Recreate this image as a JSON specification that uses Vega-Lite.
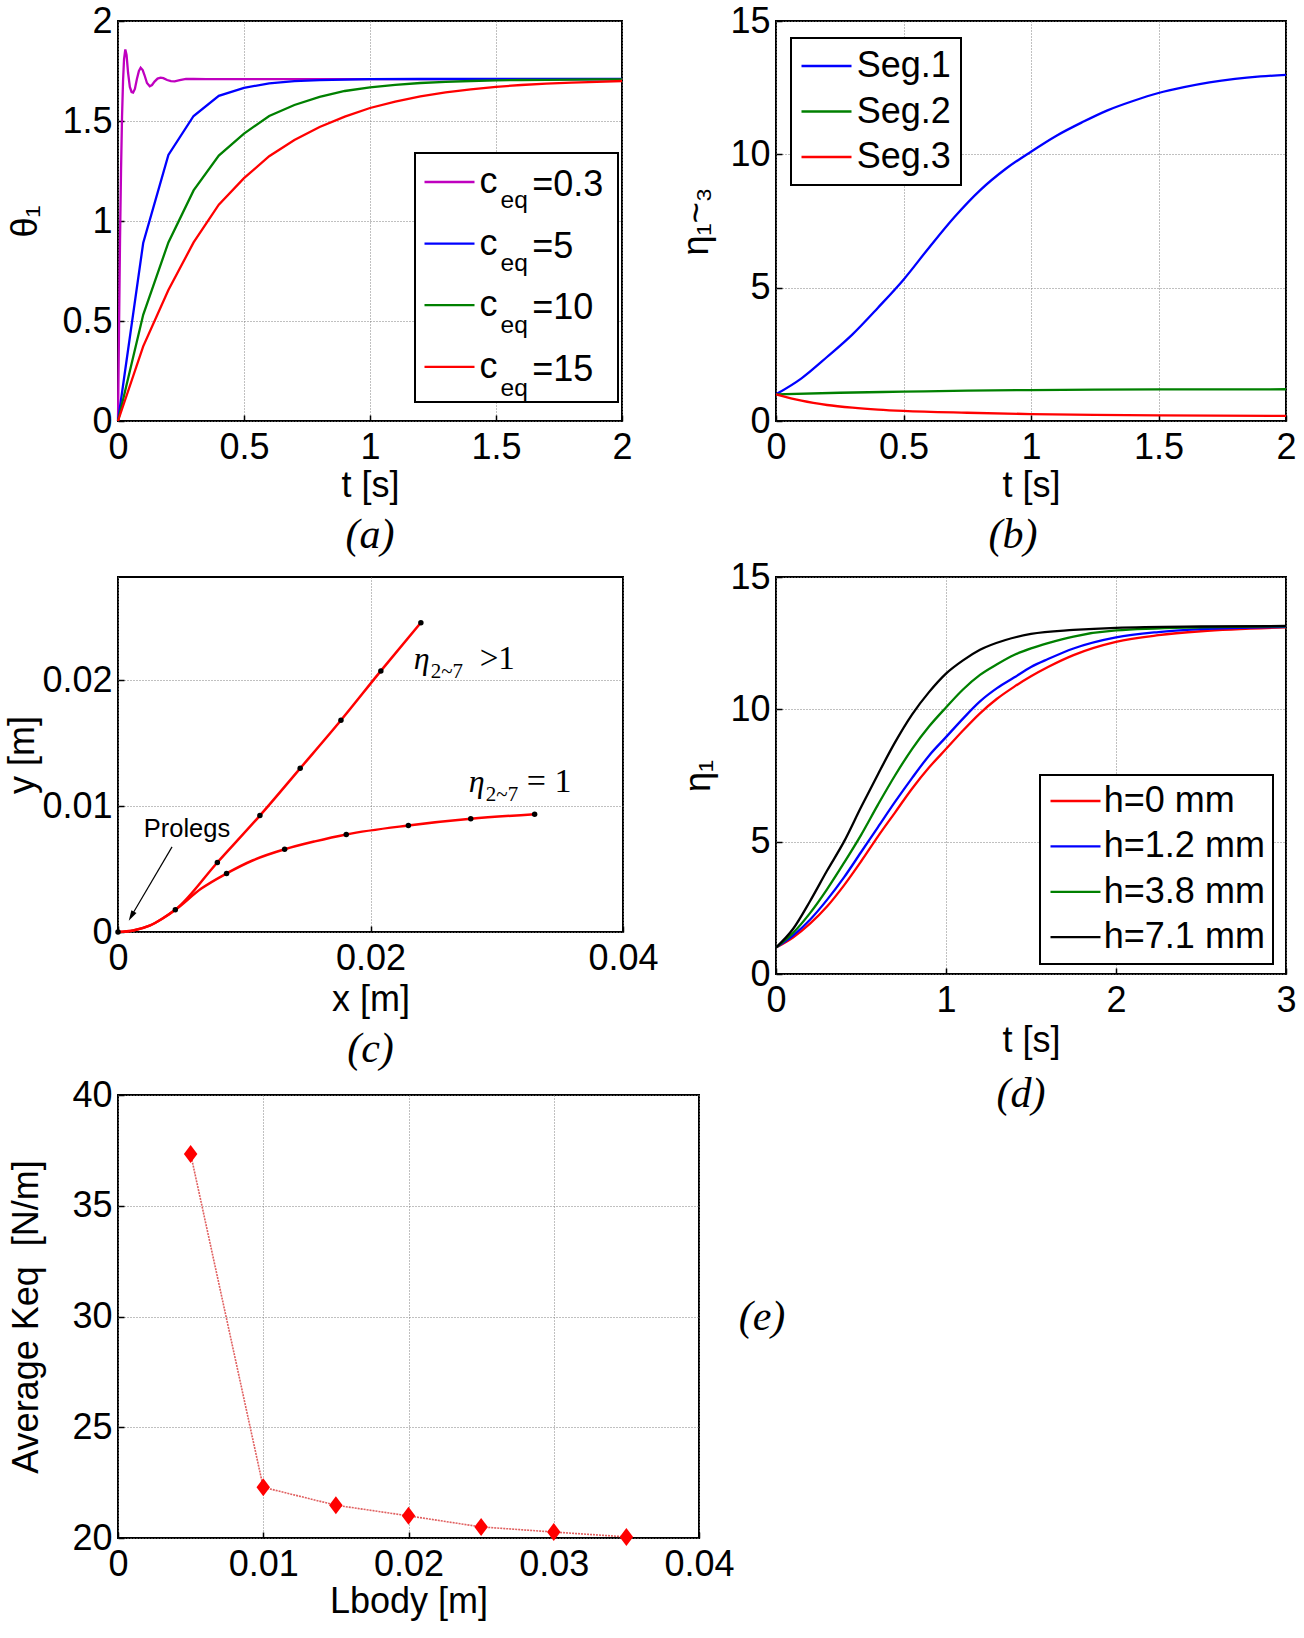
{
  "$schema": "https://vega.github.io/schema/vega-lite/v6.json",
  "autosize": "none",
  "padding": {"left": 118, "top": 21, "right": 1186, "bottom": 1617},
  "background": "white",
  "config": {
    "font": "Liberation Sans",
    "view": {"stroke": "black", "strokeWidth": 2},
    "axis": {
      "domain": false, "grid": true, "gridColor": "#808080", "gridDash": [1, 2], "gridWidth": 1,
      "ticks": true, "tickColor": "black", "tickSize": -6, "tickWidth": 1.5,
      "labelFont": "Liberation Sans", "labelFontSize": 36, "labelColor": "black",
      "labelFlush": false, "labelOverlap": false, "labelBound": false,
      "titleFont": "Liberation Sans", "titleFontSize": 36, "titleFontWeight": "normal", "titleColor": "black"
    },
    "axisX": {"labelPadding": 15},
    "axisY": {"labelPadding": 12},
    "legend": {
      "labelFont": "Liberation Sans", "labelColor": "black", "labelLimit": 400,
      "symbolType": "M-1,0H3", "symbolSize": 625, "symbolStrokeWidth": 2.3, "labelOffset": 20,
      "strokeColor": "black", "strokeWidth": 2, "fillColor": "white", "orient": "none"
    },
    "title": {
      "font": "Liberation Serif", "fontSize": 42, "fontStyle": "italic", "fontWeight": "normal",
      "color": "black", "orient": "bottom", "frame": "group", "anchor": "middle", "offset": 12
    }
  },
  "datasets": {
    "a": [
      {"t": 0, "th": 0, "c": "ceq=0.3"}, {"t": 0.004, "th": 0.45, "c": "ceq=0.3"}, {"t": 0.008, "th": 0.9, "c": "ceq=0.3"},
      {"t": 0.012, "th": 1.25, "c": "ceq=0.3"}, {"t": 0.016, "th": 1.52, "c": "ceq=0.3"}, {"t": 0.02, "th": 1.7, "c": "ceq=0.3"},
      {"t": 0.024, "th": 1.81, "c": "ceq=0.3"}, {"t": 0.029, "th": 1.858, "c": "ceq=0.3"}, {"t": 0.034, "th": 1.83, "c": "ceq=0.3"},
      {"t": 0.04, "th": 1.74, "c": "ceq=0.3"}, {"t": 0.047, "th": 1.67, "c": "ceq=0.3"}, {"t": 0.054, "th": 1.645, "c": "ceq=0.3"},
      {"t": 0.06, "th": 1.642, "c": "ceq=0.3"}, {"t": 0.067, "th": 1.66, "c": "ceq=0.3"}, {"t": 0.075, "th": 1.71, "c": "ceq=0.3"},
      {"t": 0.083, "th": 1.75, "c": "ceq=0.3"}, {"t": 0.09, "th": 1.766, "c": "ceq=0.3"}, {"t": 0.098, "th": 1.755, "c": "ceq=0.3"},
      {"t": 0.105, "th": 1.73, "c": "ceq=0.3"}, {"t": 0.115, "th": 1.69, "c": "ceq=0.3"}, {"t": 0.126, "th": 1.674, "c": "ceq=0.3"},
      {"t": 0.135, "th": 1.68, "c": "ceq=0.3"}, {"t": 0.145, "th": 1.697, "c": "ceq=0.3"}, {"t": 0.157, "th": 1.712, "c": "ceq=0.3"},
      {"t": 0.169, "th": 1.717, "c": "ceq=0.3"}, {"t": 0.18, "th": 1.714, "c": "ceq=0.3"}, {"t": 0.195, "th": 1.705, "c": "ceq=0.3"},
      {"t": 0.21, "th": 1.699, "c": "ceq=0.3"}, {"t": 0.225, "th": 1.698, "c": "ceq=0.3"}, {"t": 0.245, "th": 1.704, "c": "ceq=0.3"},
      {"t": 0.27, "th": 1.711, "c": "ceq=0.3"}, {"t": 0.3, "th": 1.71, "c": "ceq=0.3"}, {"t": 0.35, "th": 1.709, "c": "ceq=0.3"},
      {"t": 0.5, "th": 1.709, "c": "ceq=0.3"}, {"t": 1.0, "th": 1.709, "c": "ceq=0.3"}, {"t": 1.5, "th": 1.709, "c": "ceq=0.3"},
      {"t": 2.0, "th": 1.709, "c": "ceq=0.3"},
      {"t": 0, "th": 0, "c": "ceq=5"}, {"t": 0.1, "th": 0.89, "c": "ceq=5"}, {"t": 0.2, "th": 1.33, "c": "ceq=5"},
      {"t": 0.3, "th": 1.525, "c": "ceq=5"}, {"t": 0.4, "th": 1.626, "c": "ceq=5"}, {"t": 0.5, "th": 1.666, "c": "ceq=5"},
      {"t": 0.6, "th": 1.688, "c": "ceq=5"}, {"t": 0.7, "th": 1.699, "c": "ceq=5"}, {"t": 0.8, "th": 1.704, "c": "ceq=5"},
      {"t": 0.9, "th": 1.707, "c": "ceq=5"}, {"t": 1.0, "th": 1.709, "c": "ceq=5"}, {"t": 1.2, "th": 1.71, "c": "ceq=5"},
      {"t": 1.5, "th": 1.71, "c": "ceq=5"}, {"t": 2.0, "th": 1.71, "c": "ceq=5"},
      {"t": 0, "th": 0, "c": "ceq=10"}, {"t": 0.1, "th": 0.531, "c": "ceq=10"}, {"t": 0.2, "th": 0.893, "c": "ceq=10"},
      {"t": 0.3, "th": 1.153, "c": "ceq=10"}, {"t": 0.4, "th": 1.327, "c": "ceq=10"}, {"t": 0.5, "th": 1.437, "c": "ceq=10"},
      {"t": 0.6, "th": 1.525, "c": "ceq=10"}, {"t": 0.7, "th": 1.58, "c": "ceq=10"}, {"t": 0.8, "th": 1.621, "c": "ceq=10"},
      {"t": 0.9, "th": 1.65, "c": "ceq=10"}, {"t": 1.0, "th": 1.668, "c": "ceq=10"}, {"t": 1.1, "th": 1.681, "c": "ceq=10"},
      {"t": 1.2, "th": 1.69, "c": "ceq=10"}, {"t": 1.3, "th": 1.696, "c": "ceq=10"}, {"t": 1.4, "th": 1.7, "c": "ceq=10"},
      {"t": 1.5, "th": 1.703, "c": "ceq=10"}, {"t": 1.6, "th": 1.705, "c": "ceq=10"}, {"t": 1.7, "th": 1.706, "c": "ceq=10"},
      {"t": 1.8, "th": 1.707, "c": "ceq=10"}, {"t": 1.9, "th": 1.708, "c": "ceq=10"}, {"t": 2.0, "th": 1.708, "c": "ceq=10"},
      {"t": 0, "th": 0, "c": "ceq=15"}, {"t": 0.1, "th": 0.373, "c": "ceq=15"}, {"t": 0.2, "th": 0.655, "c": "ceq=15"},
      {"t": 0.3, "th": 0.893, "c": "ceq=15"}, {"t": 0.4, "th": 1.082, "c": "ceq=15"}, {"t": 0.5, "th": 1.214, "c": "ceq=15"},
      {"t": 0.6, "th": 1.324, "c": "ceq=15"}, {"t": 0.7, "th": 1.405, "c": "ceq=15"}, {"t": 0.8, "th": 1.47, "c": "ceq=15"},
      {"t": 0.9, "th": 1.522, "c": "ceq=15"}, {"t": 1.0, "th": 1.565, "c": "ceq=15"}, {"t": 1.1, "th": 1.597, "c": "ceq=15"},
      {"t": 1.2, "th": 1.623, "c": "ceq=15"}, {"t": 1.3, "th": 1.643, "c": "ceq=15"}, {"t": 1.4, "th": 1.658, "c": "ceq=15"},
      {"t": 1.5, "th": 1.671, "c": "ceq=15"}, {"t": 1.6, "th": 1.68, "c": "ceq=15"}, {"t": 1.7, "th": 1.687, "c": "ceq=15"},
      {"t": 1.8, "th": 1.692, "c": "ceq=15"}, {"t": 1.9, "th": 1.696, "c": "ceq=15"}, {"t": 2.0, "th": 1.7, "c": "ceq=15"}
    ],
    "asub": [{"k": "eq0.3"}, {"k": "eq5"}, {"k": "eq10"}, {"k": "eq15"}],
    "aval": [{"v": "=0.3"}, {"v": "=5"}, {"v": "=10"}, {"v": "=15"}],
    "b": [
      {"t": 0, "eta": 1.0, "s": "Seg.1"}, {"t": 0.1, "eta": 1.6, "s": "Seg.1"}, {"t": 0.2, "eta": 2.4, "s": "Seg.1"},
      {"t": 0.3, "eta": 3.25, "s": "Seg.1"}, {"t": 0.4, "eta": 4.25, "s": "Seg.1"}, {"t": 0.5, "eta": 5.3, "s": "Seg.1"},
      {"t": 0.6, "eta": 6.5, "s": "Seg.1"}, {"t": 0.7, "eta": 7.65, "s": "Seg.1"}, {"t": 0.8, "eta": 8.65, "s": "Seg.1"},
      {"t": 0.9, "eta": 9.45, "s": "Seg.1"}, {"t": 1.0, "eta": 10.1, "s": "Seg.1"}, {"t": 1.1, "eta": 10.7, "s": "Seg.1"},
      {"t": 1.2, "eta": 11.2, "s": "Seg.1"}, {"t": 1.3, "eta": 11.65, "s": "Seg.1"}, {"t": 1.4, "eta": 12.0, "s": "Seg.1"},
      {"t": 1.5, "eta": 12.3, "s": "Seg.1"}, {"t": 1.6, "eta": 12.52, "s": "Seg.1"}, {"t": 1.7, "eta": 12.7, "s": "Seg.1"},
      {"t": 1.8, "eta": 12.83, "s": "Seg.1"}, {"t": 1.9, "eta": 12.92, "s": "Seg.1"}, {"t": 2.0, "eta": 12.98, "s": "Seg.1"},
      {"t": 0, "eta": 1.0, "s": "Seg.2"}, {"t": 0.25, "eta": 1.06, "s": "Seg.2"}, {"t": 0.5, "eta": 1.1, "s": "Seg.2"},
      {"t": 0.75, "eta": 1.14, "s": "Seg.2"}, {"t": 1.0, "eta": 1.16, "s": "Seg.2"}, {"t": 1.25, "eta": 1.175, "s": "Seg.2"},
      {"t": 1.5, "eta": 1.185, "s": "Seg.2"}, {"t": 2.0, "eta": 1.19, "s": "Seg.2"},
      {"t": 0, "eta": 1.0, "s": "Seg.3"}, {"t": 0.1, "eta": 0.76, "s": "Seg.3"}, {"t": 0.2, "eta": 0.6, "s": "Seg.3"},
      {"t": 0.3, "eta": 0.5, "s": "Seg.3"}, {"t": 0.4, "eta": 0.43, "s": "Seg.3"}, {"t": 0.5, "eta": 0.38, "s": "Seg.3"},
      {"t": 0.75, "eta": 0.31, "s": "Seg.3"}, {"t": 1.0, "eta": 0.26, "s": "Seg.3"}, {"t": 1.25, "eta": 0.23, "s": "Seg.3"},
      {"t": 1.5, "eta": 0.21, "s": "Seg.3"}, {"t": 2.0, "eta": 0.19, "s": "Seg.3"}
    ],
    "cline": [
      {"x": 0, "y": 0, "k": "gt"}, {"x": 0.0012, "y": 0.00012, "k": "gt"}, {"x": 0.0025, "y": 0.0005, "k": "gt"},
      {"x": 0.0035, "y": 0.00105, "k": "gt"}, {"x": 0.00454, "y": 0.00176, "k": "gt"}, {"x": 0.00787, "y": 0.00552, "k": "gt"},
      {"x": 0.01124, "y": 0.00925, "k": "gt"}, {"x": 0.01443, "y": 0.013, "k": "gt"}, {"x": 0.01766, "y": 0.01682, "k": "gt"},
      {"x": 0.02082, "y": 0.02074, "k": "gt"}, {"x": 0.02399, "y": 0.02457, "k": "gt"},
      {"x": 0, "y": 0, "k": "eq"}, {"x": 0.0012, "y": 0.00012, "k": "eq"}, {"x": 0.0025, "y": 0.0005, "k": "eq"},
      {"x": 0.0035, "y": 0.00105, "k": "eq"}, {"x": 0.00454, "y": 0.00176, "k": "eq"}, {"x": 0.0066, "y": 0.00345, "k": "eq"},
      {"x": 0.0086, "y": 0.00465, "k": "eq"}, {"x": 0.0107, "y": 0.0057, "k": "eq"}, {"x": 0.0132, "y": 0.00657, "k": "eq"},
      {"x": 0.0156, "y": 0.0072, "k": "eq"}, {"x": 0.01808, "y": 0.00775, "k": "eq"}, {"x": 0.023, "y": 0.00846, "k": "eq"},
      {"x": 0.02794, "y": 0.00899, "k": "eq"}, {"x": 0.033, "y": 0.00936, "k": "eq"}
    ],
    "cnodes": [
      {"x": 0, "y": 0}, {"x": 0.00454, "y": 0.00176}, {"x": 0.00787, "y": 0.00552}, {"x": 0.01124, "y": 0.00925},
      {"x": 0.01443, "y": 0.013}, {"x": 0.01766, "y": 0.01682}, {"x": 0.02082, "y": 0.02074}, {"x": 0.02399, "y": 0.02457},
      {"x": 0.0086, "y": 0.00465}, {"x": 0.0132, "y": 0.00657}, {"x": 0.01808, "y": 0.00775}, {"x": 0.023, "y": 0.00846},
      {"x": 0.02794, "y": 0.00899}, {"x": 0.033, "y": 0.00936}
    ],
    "d": [
      {"t": 0, "eta": 1.0, "h": "h=0 mm"}, {"t": 0.1, "eta": 1.38, "h": "h=0 mm"}, {"t": 0.2, "eta": 1.9, "h": "h=0 mm"},
      {"t": 0.3, "eta": 2.55, "h": "h=0 mm"}, {"t": 0.4, "eta": 3.35, "h": "h=0 mm"}, {"t": 0.5, "eta": 4.25, "h": "h=0 mm"},
      {"t": 0.6, "eta": 5.2, "h": "h=0 mm"}, {"t": 0.7, "eta": 6.1, "h": "h=0 mm"}, {"t": 0.8, "eta": 7.0, "h": "h=0 mm"},
      {"t": 0.9, "eta": 7.8, "h": "h=0 mm"}, {"t": 1.0, "eta": 8.5, "h": "h=0 mm"}, {"t": 1.1, "eta": 9.2, "h": "h=0 mm"},
      {"t": 1.2, "eta": 9.85, "h": "h=0 mm"}, {"t": 1.3, "eta": 10.4, "h": "h=0 mm"}, {"t": 1.4, "eta": 10.85, "h": "h=0 mm"},
      {"t": 1.5, "eta": 11.25, "h": "h=0 mm"}, {"t": 1.6, "eta": 11.6, "h": "h=0 mm"}, {"t": 1.75, "eta": 12.05, "h": "h=0 mm"},
      {"t": 2.0, "eta": 12.55, "h": "h=0 mm"}, {"t": 2.25, "eta": 12.8, "h": "h=0 mm"}, {"t": 2.5, "eta": 12.95, "h": "h=0 mm"},
      {"t": 3.0, "eta": 13.1, "h": "h=0 mm"},
      {"t": 0, "eta": 1.0, "h": "h=1.2 mm"}, {"t": 0.1, "eta": 1.45, "h": "h=1.2 mm"}, {"t": 0.2, "eta": 2.05, "h": "h=1.2 mm"},
      {"t": 0.3, "eta": 2.8, "h": "h=1.2 mm"}, {"t": 0.4, "eta": 3.65, "h": "h=1.2 mm"}, {"t": 0.5, "eta": 4.6, "h": "h=1.2 mm"},
      {"t": 0.6, "eta": 5.55, "h": "h=1.2 mm"}, {"t": 0.7, "eta": 6.5, "h": "h=1.2 mm"}, {"t": 0.8, "eta": 7.4, "h": "h=1.2 mm"},
      {"t": 0.9, "eta": 8.25, "h": "h=1.2 mm"}, {"t": 1.0, "eta": 8.95, "h": "h=1.2 mm"}, {"t": 1.1, "eta": 9.65, "h": "h=1.2 mm"},
      {"t": 1.2, "eta": 10.3, "h": "h=1.2 mm"}, {"t": 1.3, "eta": 10.8, "h": "h=1.2 mm"}, {"t": 1.4, "eta": 11.2, "h": "h=1.2 mm"},
      {"t": 1.5, "eta": 11.6, "h": "h=1.2 mm"}, {"t": 1.6, "eta": 11.9, "h": "h=1.2 mm"}, {"t": 1.75, "eta": 12.3, "h": "h=1.2 mm"},
      {"t": 2.0, "eta": 12.72, "h": "h=1.2 mm"}, {"t": 2.25, "eta": 12.92, "h": "h=1.2 mm"}, {"t": 2.5, "eta": 13.03, "h": "h=1.2 mm"},
      {"t": 3.0, "eta": 13.12, "h": "h=1.2 mm"},
      {"t": 0, "eta": 1.0, "h": "h=3.8 mm"}, {"t": 0.1, "eta": 1.55, "h": "h=3.8 mm"}, {"t": 0.2, "eta": 2.3, "h": "h=3.8 mm"},
      {"t": 0.3, "eta": 3.2, "h": "h=3.8 mm"}, {"t": 0.4, "eta": 4.2, "h": "h=3.8 mm"}, {"t": 0.5, "eta": 5.25, "h": "h=3.8 mm"},
      {"t": 0.6, "eta": 6.4, "h": "h=3.8 mm"}, {"t": 0.7, "eta": 7.5, "h": "h=3.8 mm"}, {"t": 0.8, "eta": 8.5, "h": "h=3.8 mm"},
      {"t": 0.9, "eta": 9.35, "h": "h=3.8 mm"}, {"t": 1.0, "eta": 10.07, "h": "h=3.8 mm"}, {"t": 1.1, "eta": 10.75, "h": "h=3.8 mm"},
      {"t": 1.2, "eta": 11.3, "h": "h=3.8 mm"}, {"t": 1.3, "eta": 11.7, "h": "h=3.8 mm"}, {"t": 1.4, "eta": 12.05, "h": "h=3.8 mm"},
      {"t": 1.5, "eta": 12.3, "h": "h=3.8 mm"}, {"t": 1.6, "eta": 12.5, "h": "h=3.8 mm"}, {"t": 1.75, "eta": 12.75, "h": "h=3.8 mm"},
      {"t": 2.0, "eta": 12.98, "h": "h=3.8 mm"}, {"t": 2.5, "eta": 13.1, "h": "h=3.8 mm"}, {"t": 3.0, "eta": 13.14, "h": "h=3.8 mm"},
      {"t": 0, "eta": 1.0, "h": "h=7.1 mm"}, {"t": 0.1, "eta": 1.7, "h": "h=7.1 mm"}, {"t": 0.2, "eta": 2.75, "h": "h=7.1 mm"},
      {"t": 0.3, "eta": 3.9, "h": "h=7.1 mm"}, {"t": 0.4, "eta": 5.0, "h": "h=7.1 mm"}, {"t": 0.5, "eta": 6.3, "h": "h=7.1 mm"},
      {"t": 0.6, "eta": 7.55, "h": "h=7.1 mm"}, {"t": 0.7, "eta": 8.75, "h": "h=7.1 mm"}, {"t": 0.8, "eta": 9.8, "h": "h=7.1 mm"},
      {"t": 0.9, "eta": 10.65, "h": "h=7.1 mm"}, {"t": 1.0, "eta": 11.35, "h": "h=7.1 mm"}, {"t": 1.1, "eta": 11.85, "h": "h=7.1 mm"},
      {"t": 1.2, "eta": 12.25, "h": "h=7.1 mm"}, {"t": 1.35, "eta": 12.62, "h": "h=7.1 mm"}, {"t": 1.5, "eta": 12.85, "h": "h=7.1 mm"},
      {"t": 1.75, "eta": 13.0, "h": "h=7.1 mm"}, {"t": 2.0, "eta": 13.08, "h": "h=7.1 mm"}, {"t": 2.5, "eta": 13.13, "h": "h=7.1 mm"},
      {"t": 3.0, "eta": 13.15, "h": "h=7.1 mm"}
    ],
    "e": [
      {"L": 0.005, "K": 37.34}, {"L": 0.01, "K": 22.29}, {"L": 0.015, "K": 21.48}, {"L": 0.02, "K": 21.0},
      {"L": 0.025, "K": 20.5}, {"L": 0.03, "K": 20.27}, {"L": 0.035, "K": 20.05}
    ]
  },
  "bounds": "flush",
  "spacing": 1074,
  "vconcat": [
    {
      "columns": 2,
      "bounds": "flush",
      "spacing": {"row": 156, "column": 153},
      "resolve": {"scale": {"color": "independent", "shape": "independent", "fill": "independent"},
                  "legend": {"color": "independent", "shape": "independent", "fill": "independent"}},
      "concat": [
        {
          "width": 504, "height": 400,
          "title": {"text": "(a)", "offset": 12},
          "layer": [
            {
              "data": {"name": "a"},
              "mark": {"type": "line", "strokeWidth": 2.3},
              "encoding": {
                "x": {"field": "t", "type": "quantitative", "scale": {"domain": [0, 2], "nice": false, "zero": false},
                      "axis": {"title": "t [s]", "values": [0, 0.5, 1, 1.5, 2], "format": "~g", "titlePadding": 3}},
                "y": {"field": "th", "type": "quantitative", "scale": {"domain": [0, 2], "nice": false, "zero": false},
                      "axis": {"title": "θ₁", "values": [0, 0.5, 1, 1.5, 2], "format": "~g", "titlePadding": 17}},
                "color": {"field": "c", "type": "nominal",
                          "scale": {"domain": ["ceq=0.3", "ceq=5", "ceq=10", "ceq=15"], "range": ["#bf00bf", "#0000ff", "#008000", "#ff0000"]},
                          "legend": {"title": null, "orient": "none", "legendX": 297, "legendY": 131, "padding": 12, "rowPadding": 25.6, "labelFontSize": 36,
                                     "symbolOffset": -8, "labelOffset": 24.4, "strokeColor": "transparent", "fillColor": "transparent", "zindex": 3,
                                     "labelExpr": "'c'"}}
              }
            },
            {
              "data": {"name": "asub"},
              "mark": {"type": "point", "opacity": 0},
              "encoding": {
                "shape": {"field": "k", "type": "nominal",
                          "scale": {"domain": ["eq0.3", "eq5", "eq10", "eq15"], "range": ["circle", "circle", "circle", "circle"]},
                          "legend": {"title": null, "orient": "none", "legendX": 358, "legendY": 168, "padding": 0, "rowPadding": 37.6,
                                     "labelFontSize": 24.5, "labelOffset": 0, "symbolSize": 1, "symbolOpacity": 0, "symbolStrokeWidth": 0,
                                     "symbolType": "circle", "strokeColor": "transparent", "fillColor": "transparent", "zindex": 3,
                                     "labelExpr": "'eq'"}}
              }
            },
            {
              "data": {"name": "aval"},
              "mark": {"type": "point", "opacity": 0},
              "encoding": {
                "fill": {"field": "v", "type": "nominal",
                         "scale": {"domain": ["=0.3", "=5", "=10", "=15"], "range": ["white", "white", "white", "white"]},
                         "legend": {"title": null, "orient": "none", "legendX": 297, "legendY": 132, "padding": 14, "rowPadding": 25.6,
                                    "labelFontSize": 36, "labelOffset": 67.3, "symbolSize": 1, "symbolOpacity": 0, "symbolStrokeWidth": 0,
                                    "symbolType": "circle", "strokeColor": "black", "fillColor": "white", "zindex": 1}}
              }
            }
          ]
        },
        {
          "width": 510, "height": 400,
          "title": {"text": "(b)", "offset": 12, "dx": -18},
          "data": {"name": "b"},
          "mark": {"type": "line", "strokeWidth": 2.3, "interpolate": "monotone"},
          "encoding": {
            "x": {"field": "t", "type": "quantitative", "scale": {"domain": [0, 2], "nice": false, "zero": false},
                  "axis": {"title": "t [s]", "values": [0, 0.5, 1, 1.5, 2], "format": "~g", "titlePadding": 3}},
            "y": {"field": "eta", "type": "quantitative", "scale": {"domain": [0, 15], "nice": false, "zero": false},
                  "axis": {"title": "η₁~₃", "values": [0, 5, 10, 15], "titlePadding": 14}},
            "color": {"field": "s", "type": "nominal",
                      "scale": {"domain": ["Seg.1", "Seg.2", "Seg.3"], "range": ["#0000ff", "#008000", "#ff0000"]},
                      "legend": {"title": null, "orient": "none", "legendX": 15, "legendY": 17, "padding": 10, "rowPadding": 9.5, "labelFontSize": 36,
                                 "symbolOffset": -5, "labelOffset": 24.7}}
          }
        },
        {
          "width": 505, "height": 355,
          "title": {"text": "(c)", "offset": 12},
          "layer": [
            {
              "data": {"name": "cline"},
              "mark": {"type": "line", "strokeWidth": 2.5, "color": "#ff0000", "interpolate": "monotone"},
              "encoding": {
                "x": {"field": "x", "type": "quantitative", "scale": {"domain": [0, 0.04], "nice": false, "zero": false},
                      "axis": {"title": "x [m]", "values": [0, 0.02, 0.04], "format": "~g", "titlePadding": 6}},
                "y": {"field": "y", "type": "quantitative", "scale": {"domain": [0, 0.0282], "nice": false, "zero": false},
                      "axis": {"title": "y [m]", "values": [0, 0.01, 0.02], "format": "~g", "titlePadding": 0}},
                "detail": {"field": "k", "type": "nominal"}
              }
            },
            {
              "data": {"name": "cnodes"},
              "mark": {"type": "point", "filled": true, "color": "black", "size": 30, "opacity": 1},
              "encoding": {
                "x": {"field": "x", "type": "quantitative"},
                "y": {"field": "y", "type": "quantitative"}
              }
            },
            {
              "data": {"values": [{}]},
              "mark": {"type": "text", "text": "η", "font": "Liberation Serif", "fontStyle": "italic", "fontSize": 32, "align": "left", "baseline": "alphabetic", "color": "black"},
              "encoding": {"x": {"datum": 0.02342, "type": "quantitative"}, "y": {"datum": 0.02087, "type": "quantitative"}}
            },
            {
              "data": {"values": [{}]},
              "mark": {"type": "text", "text": "2~7", "font": "Liberation Serif", "fontSize": 21, "align": "left", "baseline": "alphabetic", "dx": 17, "dy": 9, "color": "black"},
              "encoding": {"x": {"datum": 0.02342, "type": "quantitative"}, "y": {"datum": 0.02087, "type": "quantitative"}}
            },
            {
              "data": {"values": [{}]},
              "mark": {"type": "text", "text": ">1", "font": "Liberation Serif", "fontSize": 33, "align": "left", "baseline": "alphabetic", "dx": 66, "color": "black"},
              "encoding": {"x": {"datum": 0.02342, "type": "quantitative"}, "y": {"datum": 0.02087, "type": "quantitative"}}
            },
            {
              "data": {"values": [{}]},
              "mark": {"type": "text", "text": "η", "font": "Liberation Serif", "fontStyle": "italic", "fontSize": 32, "align": "left", "baseline": "alphabetic", "color": "black"},
              "encoding": {"x": {"datum": 0.02779, "type": "quantitative"}, "y": {"datum": 0.01109, "type": "quantitative"}}
            },
            {
              "data": {"values": [{}]},
              "mark": {"type": "text", "text": "2~7", "font": "Liberation Serif", "fontSize": 21, "align": "left", "baseline": "alphabetic", "dx": 17, "dy": 9, "color": "black"},
              "encoding": {"x": {"datum": 0.02779, "type": "quantitative"}, "y": {"datum": 0.01109, "type": "quantitative"}}
            },
            {
              "data": {"values": [{}]},
              "mark": {"type": "text", "text": "= 1", "font": "Liberation Serif", "fontSize": 34, "align": "left", "baseline": "alphabetic", "dx": 58, "color": "black"},
              "encoding": {"x": {"datum": 0.02779, "type": "quantitative"}, "y": {"datum": 0.01109, "type": "quantitative"}}
            },
            {
              "data": {"values": [{}]},
              "mark": {"type": "text", "text": "Prolegs", "font": "Liberation Sans", "fontSize": 25.5, "align": "left", "baseline": "alphabetic", "color": "black"},
              "encoding": {"x": {"datum": 0.00204, "type": "quantitative"}, "y": {"datum": 0.00754, "type": "quantitative"}}
            },
            {
              "data": {"values": [{}]},
              "mark": {"type": "rule", "color": "black", "strokeWidth": 1.2},
              "encoding": {
                "x": {"datum": 0.00428, "type": "quantitative"}, "y": {"datum": 0.00676, "type": "quantitative"},
                "x2": {"datum": 0.001}, "y2": {"datum": 0.00117}
              }
            },
            {
              "data": {"values": [{}]},
              "mark": {"type": "point", "shape": "M0,0L-0.45,-1.6L0.45,-1.6Z", "filled": true, "color": "black", "opacity": 1, "size": 170, "angle": 30},
              "encoding": {"x": {"datum": 0.00085, "type": "quantitative"}, "y": {"datum": 0.0009, "type": "quantitative"}}
            }
          ]
        },
        {
          "width": 510, "height": 397,
          "title": {"text": "(d)", "offset": 16, "dx": -10},
          "data": {"name": "d"},
          "mark": {"type": "line", "strokeWidth": 2.3, "interpolate": "monotone"},
          "encoding": {
            "x": {"field": "t", "type": "quantitative", "scale": {"domain": [0, 3], "nice": false, "zero": false},
                  "axis": {"title": "t [s]", "values": [0, 1, 2, 3], "titlePadding": 5}},
            "y": {"field": "eta", "type": "quantitative", "scale": {"domain": [0, 15], "nice": false, "zero": false},
                  "axis": {"title": "η₁", "values": [0, 5, 10, 15], "titlePadding": 12}},
            "color": {"field": "h", "type": "nominal",
                      "scale": {"domain": ["h=0 mm", "h=1.2 mm", "h=3.8 mm", "h=7.1 mm"], "range": ["#ff0000", "#0000ff", "#008000", "#000000"]},
                      "legend": {"title": null, "orient": "none", "legendX": 264, "legendY": 198, "padding": 8, "rowPadding": 9.4, "labelFontSize": 36,
                                 "symbolOffset": -3, "labelOffset": 22.8}}
          }
        }
      ]
    },
    {
      "width": 581, "height": 443,
      "layer": [
        {
          "data": {"name": "e"},
          "mark": {"type": "line", "color": "#e06060", "strokeWidth": 1.6, "strokeDash": [2, 1]},
          "encoding": {
            "x": {"field": "L", "type": "quantitative", "scale": {"domain": [0, 0.04], "nice": false, "zero": false},
                  "axis": {"title": "Lbody [m]", "values": [0, 0.01, 0.02, 0.03, 0.04], "format": "~g", "titlePadding": 2}},
            "y": {"field": "K", "type": "quantitative", "scale": {"domain": [20, 40], "nice": false, "zero": false},
                  "axis": {"title": "Average Keq\u00a0\u00a0[N/m]", "values": [20, 25, 30, 35, 40], "titlePadding": 26}}
          }
        },
        {
          "data": {"name": "e"},
          "mark": {"type": "point", "shape": "M0,-1L0.75,0L0,1L-0.75,0Z", "filled": true, "color": "#ff0000", "opacity": 1, "size": 324},
          "encoding": {
            "x": {"field": "L", "type": "quantitative"},
            "y": {"field": "K", "type": "quantitative"}
          }
        },
        {
          "data": {"values": [{}]},
          "mark": {"type": "text", "text": "(e)", "font": "Liberation Serif", "fontStyle": "italic", "fontSize": 42, "align": "center", "baseline": "middle", "color": "black"},
          "encoding": {"x": {"datum": 0.04434, "type": "quantitative"}, "y": {"datum": 30, "type": "quantitative"}}
        }
      ]
    }
  ]
}
